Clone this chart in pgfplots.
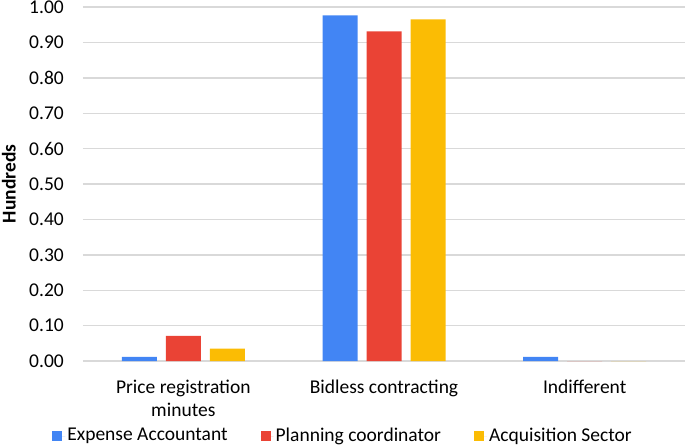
\documentclass[border=0pt]{standalone}
\usepackage{fontspec}
\setmainfont{Carlito}
\usepackage{pgfplots}
\pgfplotsset{compat=1.18}
\definecolor{cblue}{HTML}{4285F4}
\definecolor{cred}{HTML}{EA4335}
\definecolor{cyellow}{HTML}{FBBC04}
\definecolor{cgrid}{HTML}{D9D9D9}
\begin{document}
\begin{tikzpicture}
\fontsize{19.5}{23}\selectfont
\begin{axis}[
  scale only axis,
  width=602pt, height=354pt,
  ybar=9pt, bar width=35pt,
  xmin=-0.5, xmax=2.5,
  ymin=0, ymax=1,
  ytick={0,0.1,...,1.01},
  xtick=data,
  xticklabels={{Price registration\\minutes},{Bidless contracting},{Indifferent}},
  axis line style={draw=none},
  major tick length=0pt,
  ymajorgrids=true,
  grid style={cgrid, line width=1.4pt},
  /pgf/number format/assume math mode=true,
  /pgf/number format/.cd, fixed, fixed zerofill, precision=2, /pgfplots/.cd,
  tick label style={font=\fontsize{19.5}{23}\selectfont},
  yticklabel style={inner sep=0pt, xshift=-19pt},
  xticklabel style={inner sep=0pt, yshift=-19pt, align=center},
  ylabel={\bfseries Hundreds},
  ylabel style={at={(axis description cs:-0.1113,0.5)}, anchor=south, inner sep=0pt, font=\fontsize{19.5}{23}\selectfont},
  legend columns=3,
  legend style={draw=none, fill=none, at={(axis description cs:0.432,-0.212)}, anchor=center,
    font=\fontsize{19.5}{23}\selectfont, /tikz/every even column/.append style={column sep=31pt}},
  legend image code/.code={\fill[#1] (0pt,-5pt) rectangle (10pt,5pt); \path (0pt,0pt) -- (13pt,0pt);},
]
\addplot[fill=cblue, draw=none] coordinates {(0,0.012) (1,0.976) (2,0.012)};
\addplot[fill=cred, draw=none] coordinates {(0,0.071) (1,0.931) (2,0)};
\addplot[fill=cyellow, draw=none] coordinates {(0,0.035) (1,0.965) (2,0)};
\legend{Expense Accountant, Planning coordinator, Acquisition Sector}
\end{axis}
\pgfresetboundingbox
\path (current axis.south west) ++(-83pt,-84pt) rectangle (current axis.north east) ++(0pt,7pt);
\end{tikzpicture}
\end{document}
